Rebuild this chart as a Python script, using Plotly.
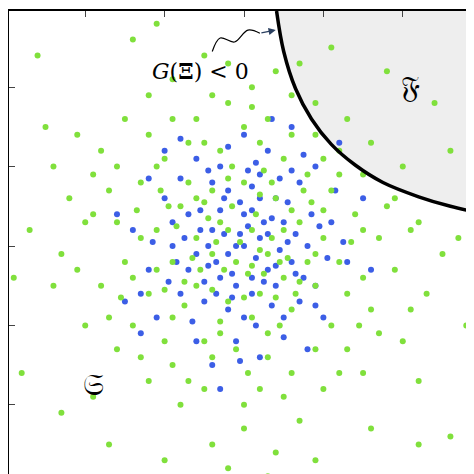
import plotly.graph_objects as go

green = [(-2.5,1.5),(-2.1,1.4),(-1.8,1.2),(-1.5,1.6),(-1.2,1.9),(-0.9,2.1),(-0.5,2.4),(-0.2,1.8),(0.1,2.0),(0.3,1.6),(0.6,1.9),(0.9,1.4),(1.2,1.2),(1.5,0.9),(1.8,0.5),(2.1,0.2),(2.5,-0.1),(2.8,-1.0),(2.3,-0.6),(1.9,-0.3),(1.6,-0.8),(1.3,-1.3),(1.0,-1.8),(0.7,-2.2),(0.4,-2.6),(0.0,-2.3),(-0.4,-2.5),(-0.8,-2.0),(-1.2,-1.7),(-1.6,-1.3),(-2.0,-1.0),(-2.4,-0.5),(-2.7,0.2),(-2.2,0.6),(-1.9,0.9),(-1.6,0.3),(-1.3,0.8),(-1.0,1.1),(-0.7,1.3),(-0.3,1.2),(0.2,1.3),(0.5,1.1),(0.8,0.9),(1.1,0.7),(1.4,0.4),(1.7,0.1),(1.2,-0.2),(0.9,-0.5),(0.6,-0.8),(0.3,-1.1),(-0.1,-1.3),(-0.5,-1.2),(-0.9,-0.9),(-1.2,-0.6),(-1.5,-0.2),(-1.8,-0.5),(-1.1,0.2),(-0.8,0.5),(-0.4,0.7),(0.0,0.8),(0.4,0.6),(0.7,0.3),(1.0,0.1),(0.8,-0.2),(0.5,-0.4),(0.2,-0.6),(-0.2,-0.7),(-0.6,-0.5),(-0.9,-0.2),(-0.6,0.1),(-0.3,0.3),(0.1,0.2),(0.3,-0.1),(-0.1,-0.2),(-0.4,-0.1),(0.5,0.2),(-0.7,0.8),(1.3,1.6),(1.6,1.3),(2.0,1.0),(2.4,1.8),(1.1,2.5),(1.8,2.2),(2.6,1.2),(-2.8,-1.6),(-2.3,-2.1),(-1.7,-2.5),(-1.0,-2.7),(0.9,-2.7),(1.6,-2.3),(2.2,-1.7),(2.6,-2.4),(-2.6,2.4),(-1.4,2.6),(-0.9,-1.5),(0.6,-1.6),(1.5,-1.6),(-1.9,-1.9),(2.0,-1.2),(-2.3,-0.1),(1.9,0.6),(0.2,-1.8),(-0.5,-1.8),(-1.4,-1.0),(-1.7,0.7),(-0.2,2.3),(0.7,2.3),
 (-1.2,1.4),(-0.6,1.6),(0.0,1.5),(0.9,1.8),(-2.0,0.3),(-1.4,-0.4),(1.5,-0.4),(1.1,-1.0),(-1.0,-1.2),(0.1,-0.9),(-0.3,-0.95),(0.85,0.55),(-1.05,0.7),(0.25,0.95),(-0.75,-0.75),(0.65,-0.6),(1.35,0.05),(-1.35,0.45),(0.05,-1.6),(-0.15,1.0),
 (0.15,0.4),(-0.25,-0.3),(0.35,0.1),(-0.45,0.35),(0.05,-0.35),(-0.55,-0.3),(0.45,-0.2),(-0.15,0.5),(0.25,-0.35),(-0.35,0.05),
 (-1.6,1.0),(-1.9,0.4),(-2.1,-0.3),(-1.7,-0.9),(-1.3,-1.4),(-0.7,-1.7),(0.0,-2.0),(0.5,-1.9),(1.2,-1.6),(1.7,-1.1),(2.1,-0.8),(2.2,0.3),(-0.9,1.6),(-0.4,1.9),(0.4,2.2),(1.0,1.1),(1.5,0.2),(1.3,-0.6),(0.9,-1.3),(0.3,-1.4),(-0.4,-1.4),(-1.1,-0.3),(-1.3,0.1),(-1.1,1.0),(-0.5,1.3),(0.6,1.4),(1.2,0.9),
 (-0.85,0.25),(-0.6,0.6),(-0.2,0.85),(0.2,0.65),(0.6,0.45),(0.9,-0.1),(0.7,-0.45),(0.4,-0.65),(0.0,-0.65),(-0.4,-0.55),(-0.75,-0.45),(-0.95,0.5),(0.35,0.8),(-0.05,0.05),(0.2,-0.05),(-0.2,0.2),(0.1,-0.25),(-0.5,0.55),(0.55,-0.15),(-0.65,-0.15),(1.0,0.45),(-1.0,-0.55),(0.75,0.7),(-0.3,-1.1),(0.45,-1.0),
 (-1.55,-0.65),(1.45,-1.0),(0.1,1.75),(-2.4,1.0),(-2.9,-0.4),(2.7,0.1),(0.3,-2.9),(-1.1,2.8),(2.2,-2.5),(-0.2,-2.8)]
blue = [(-0.1,0.0),(0.2,0.1),(-0.4,0.2),(0.3,-0.3),(-0.3,-0.4),(0.0,0.4),(0.5,0.3),(-0.6,-0.1),(0.1,-0.6),(-0.2,0.7),(0.6,-0.2),(-0.7,0.4),(0.4,0.6),(-0.5,-0.7),(0.8,0.0),(-0.9,0.0),(0.0,-0.9),(0.2,0.9),(-0.3,1.0),(0.7,0.8),(-0.8,-0.6),(0.9,-0.5),(-1.0,0.6),(0.5,-0.9),(-0.1,-1.2),(1.1,0.3),(-1.2,-0.3),(0.3,1.2),(-0.6,1.1),(0.9,1.0),(1.0,-0.9),(-1.1,-0.9),(0.15,-0.15),(-0.25,0.15),(0.35,0.35),(-0.45,-0.25),(0.05,0.25),(-0.15,-0.35),(0.45,-0.05),(-0.55,0.45),(0.25,-0.45),(-0.05,0.55),(0.65,0.15),(-0.35,-0.6),(0.1,0.75),(-0.7,-0.3),(0.55,0.55),(-0.2,-0.8),(0.75,-0.4),(-0.9,0.3),(1.3,-0.2),(-1.4,0.2),(0.0,1.4),(0.2,-1.4),(1.5,0.6),(-1.5,-0.7),(0.6,1.5),(-0.4,-1.5),(1.2,1.3),(-1.0,1.2),(0.8,-1.3),(-1.3,-1.1),(0.0,0.0),(0.3,0.15),(-0.2,-0.1),(0.1,0.45),(-0.45,0.0),(0.4,-0.25),(-0.1,-0.5),(-0.3,0.45),
 (0.6,0.95),(-0.8,0.85),(0.95,0.25),(-0.65,-0.95),(0.35,-0.75),(-1.15,0.05),(0.15,1.05),(-0.4,0.8),(0.7,-0.7),(1.05,-0.15),
 (-0.05,0.15),(0.25,0.3),(-0.35,-0.2),(0.1,-0.4),(-0.55,0.2),(0.55,0.05),(-0.25,0.6),(0.4,-0.5),(-0.75,0.1),(0.85,0.4),(-0.5,-0.45),(0.2,0.6),(-0.15,-0.65),(0.65,-0.35),(-0.85,-0.2),(0.05,0.95),(-0.45,0.95),(0.45,0.85),(-0.95,-0.45),(0.15,-1.0),(-0.6,-1.2),(1.15,0.7),(-1.2,0.85),(0.9,-0.75),(-0.2,1.25),(0.5,-1.15),(1.25,0.05),(-1.3,-0.6),(-0.05,-1.45),(0.75,1.15),(-0.8,1.35),(1.6,-0.3),(-1.6,0.4),(0.35,1.6),(-0.3,-1.8)]

boundary_x = [0.41,0.5,0.65,0.85,1.1,1.4,1.75,2.2,2.6,2.96]
boundary_y = [2.96,2.45,1.98,1.6,1.28,1.02,0.8,0.62,0.5,0.42]
ticks = [-2,-1,0,1,2]

fig = go.Figure()
fig.add_trace(go.Scatter(x=boundary_x+[2.96], y=boundary_y+[2.96], fill="toself",
    fillcolor="#eeeeee", line=dict(width=0, shape="spline"), mode="lines", hoverinfo="skip"))
fig.add_trace(go.Scatter(x=[p[0] for p in blue], y=[p[1] for p in blue], mode="markers",
    marker=dict(color="#3c5ee6", size=6)))
fig.add_trace(go.Scatter(x=[p[0] for p in green], y=[p[1] for p in green], mode="markers",
    marker=dict(color="#80e03c", size=6)))
fig.add_trace(go.Scatter(x=boundary_x, y=boundary_y, mode="lines",
    line=dict(color="black", width=3.5, shape="spline")))
fig.add_trace(go.Scatter(x=[-0.4,-0.3,-0.12,0.05,0.2], y=[2.45,2.62,2.57,2.72,2.68], mode="lines",
    line=dict(color="black", width=1.2, shape="spline")))
fig.add_annotation(x=0.4, y=2.72, ax=0.2, ay=2.68, axref="x", ayref="y", showarrow=True,
    arrowhead=2, arrowsize=1.2, arrowwidth=1.2, text="")
fig.add_annotation(x=-0.55, y=2.2, text="<i>G</i>(<b>Ξ</b>) &lt; 0", showarrow=False,
    font=dict(family="DejaVu Serif", size=22, color="black"))
fig.add_annotation(x=2.1, y=2.0, text="𝔉", showarrow=False, font=dict(family="DejaVu Serif", size=30, color="black"))
fig.add_annotation(x=-1.9, y=-1.75, text="𝔖", showarrow=False, font=dict(family="DejaVu Serif", size=30, color="black"))

ax = dict(range=[-2.96,2.96], tickvals=ticks, ticks="inside", ticklen=6, showticklabels=False,
          showgrid=False, zeroline=False, showline=True, linecolor="black", linewidth=1.5, mirror="ticks")
fig.update_layout(width=474, height=474, margin=dict(l=1,r=1,t=1,b=1), showlegend=False,
    plot_bgcolor="white", paper_bgcolor="white", xaxis=ax, yaxis=ax)
fig.write_html("out.html")
